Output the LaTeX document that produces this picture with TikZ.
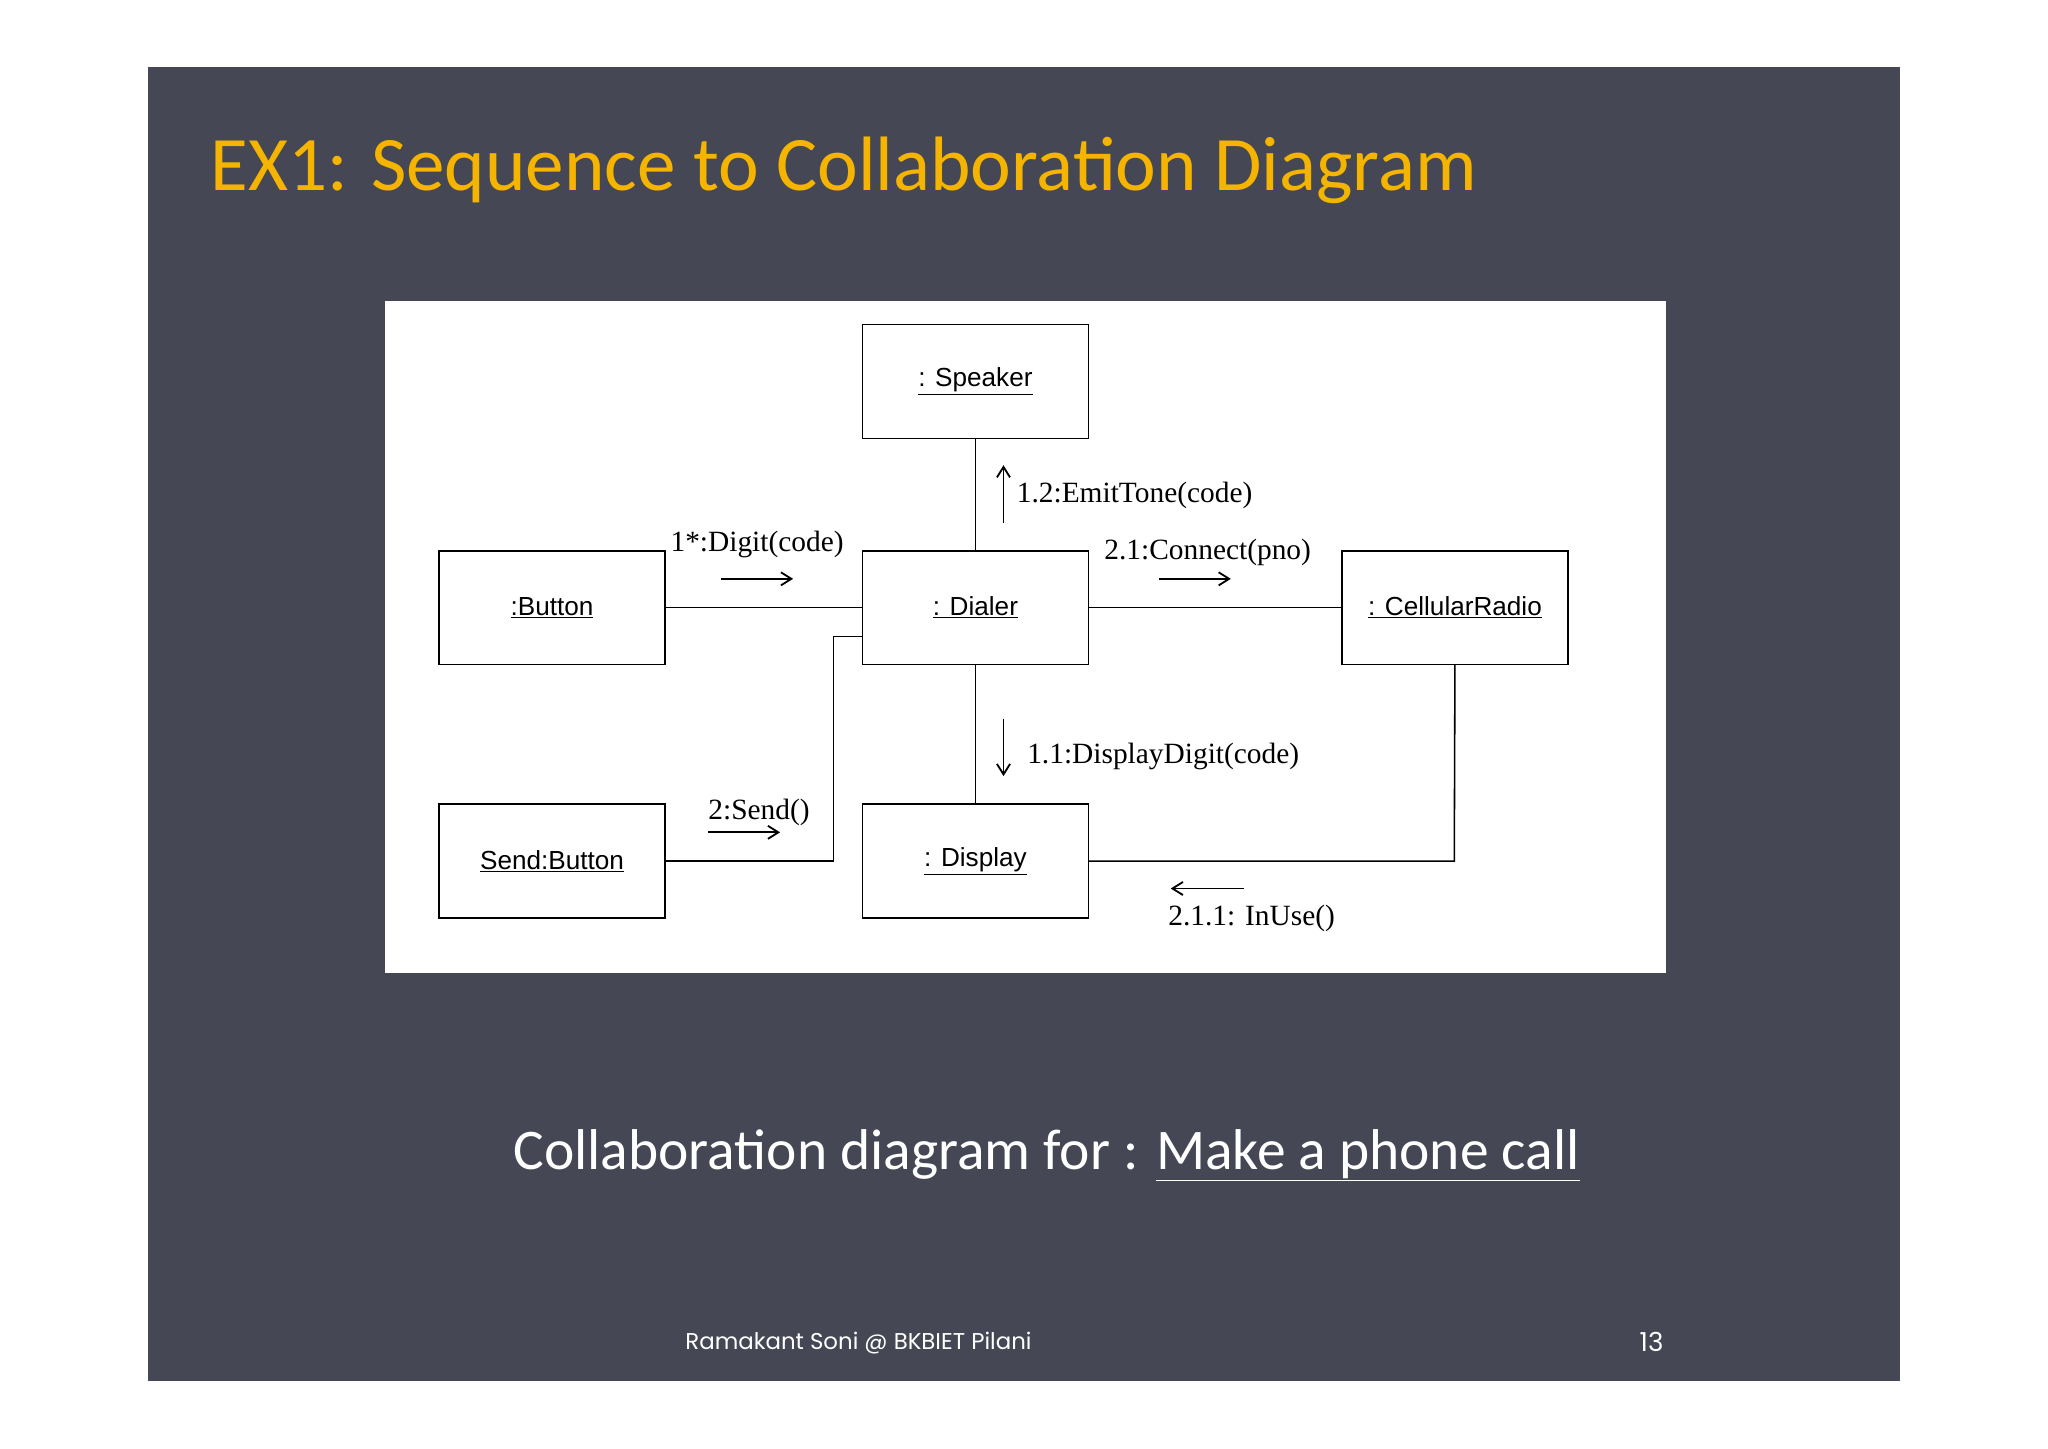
\documentclass[tikz,border=0pt]{standalone}
\usepackage{fontspec}
\setmainfont{Carlito}
\newfontfamily\boxfont{Liberation Sans}
\newfontfamily\lblfont{Liberation Serif}
\newfontfamily\footfont{Poppins}
\usetikzlibrary{arrows.meta}
\definecolor{slidebg}{HTML}{454854}
\definecolor{titlecol}{HTML}{F5B400}
\begin{document}
\begin{tikzpicture}[x=1pt,y=-1pt,
  obj/.style={draw,line width=1.2pt,minimum width=173pt,minimum height=87pt,inner sep=0pt,font=\boxfont\fontsize{20}{24}\selectfont},
  lbl/.style={font=\lblfont\fontsize{22.5}{26}\selectfont,inner sep=0pt,anchor=west},
  msg/.style={-{Straight Barb[length=8pt,width=10pt]},line width=1.4pt},
  conn/.style={line width=1.2pt}]
\useasboundingbox (0,0) rectangle (1567.4,1108.8);
\fill[white] (0,0) rectangle (1567.4,1108.8);
\fill[slidebg] (113,51) rectangle (1454,1057);
\node[anchor=west,text=titlecol,font=\fontsize{59}{62}\selectfont,inner sep=0pt] (title) at (161,130) {EX1: Sequence to Collaboration Diagram};
\fill[white] (295,230) rectangle (1275,745);
\node[obj] (spk) at (746.5,292) {\underline{: Speaker}};
\node[obj] (btn) at (422.5,465) {\underline{:Button}};
\node[obj] (dia) at (746.5,465) {\underline{: Dialer}};
\node[obj] (cell) at (1113.5,465) {\underline{: CellularRadio}};
\node[obj] (send) at (422.5,659) {\underline{Send:Button}};
\node[obj] (disp) at (746.5,659) {\underline{: Display}};
\draw[conn] (spk) -- (dia);
\draw[conn] (btn) -- (dia);
\draw[conn] (dia) -- (cell);
\draw[conn] (dia) -- (disp);
\draw[conn] (send.east) -- (638,659) -- (638,487) -- (dia.west |- 0,487);
\draw[conn] (cell.south) -- (1113,659) -- (disp.east);
\coordinate (a1s) at (768,400); \coordinate (a1e) at (768,356);
\draw[msg] (a1s) -- (a1e);
\node[lbl] (l1) at (778,379) {1.2:EmitTone(code)};
\coordinate (a2s) at (552,443); \coordinate (a2e) at (607,443);
\draw[msg] (a2s) -- (a2e);
\node[lbl] (l2) at (513,417) {1*:Digit(code)};
\coordinate (a3s) at (887,443); \coordinate (a3e) at (942,443);
\draw[msg] (a3s) -- (a3e);
\node[lbl] (l3) at (845,423) {2.1:Connect(pno)};
\coordinate (a4s) at (768,550); \coordinate (a4e) at (768,594);
\draw[msg] (a4s) -- (a4e);
\node[lbl] (l4) at (786,579) {1.1:DisplayDigit(code)};
\coordinate (a5s) at (542,637); \coordinate (a5e) at (597,637);
\draw[msg] (a5s) -- (a5e);
\node[lbl] (l5) at (542,622) {2:Send()};
\coordinate (a6s) at (952,680); \coordinate (a6e) at (896,680);
\draw[msg] (a6s) -- (a6e);
\node[lbl] (l6) at (894,703) {2.1.1: InUse()};
\node[text=white,font=\fontsize{44}{48}\selectfont,inner sep=0pt] (cap) at (801,884) {Collaboration diagram for : \underline{Make a phone call}};
\node[text=white,font=\footfont\fontsize{17.5}{20}\selectfont,inner sep=0pt] (foot) at (657,1028) {Ramakant Soni @ BKBIET Pilani};
\node[text=white,font=\footfont\fontsize{20}{24}\selectfont,inner sep=0pt] (pg) at (1264,1027) {13};
\end{tikzpicture}
\end{document}
